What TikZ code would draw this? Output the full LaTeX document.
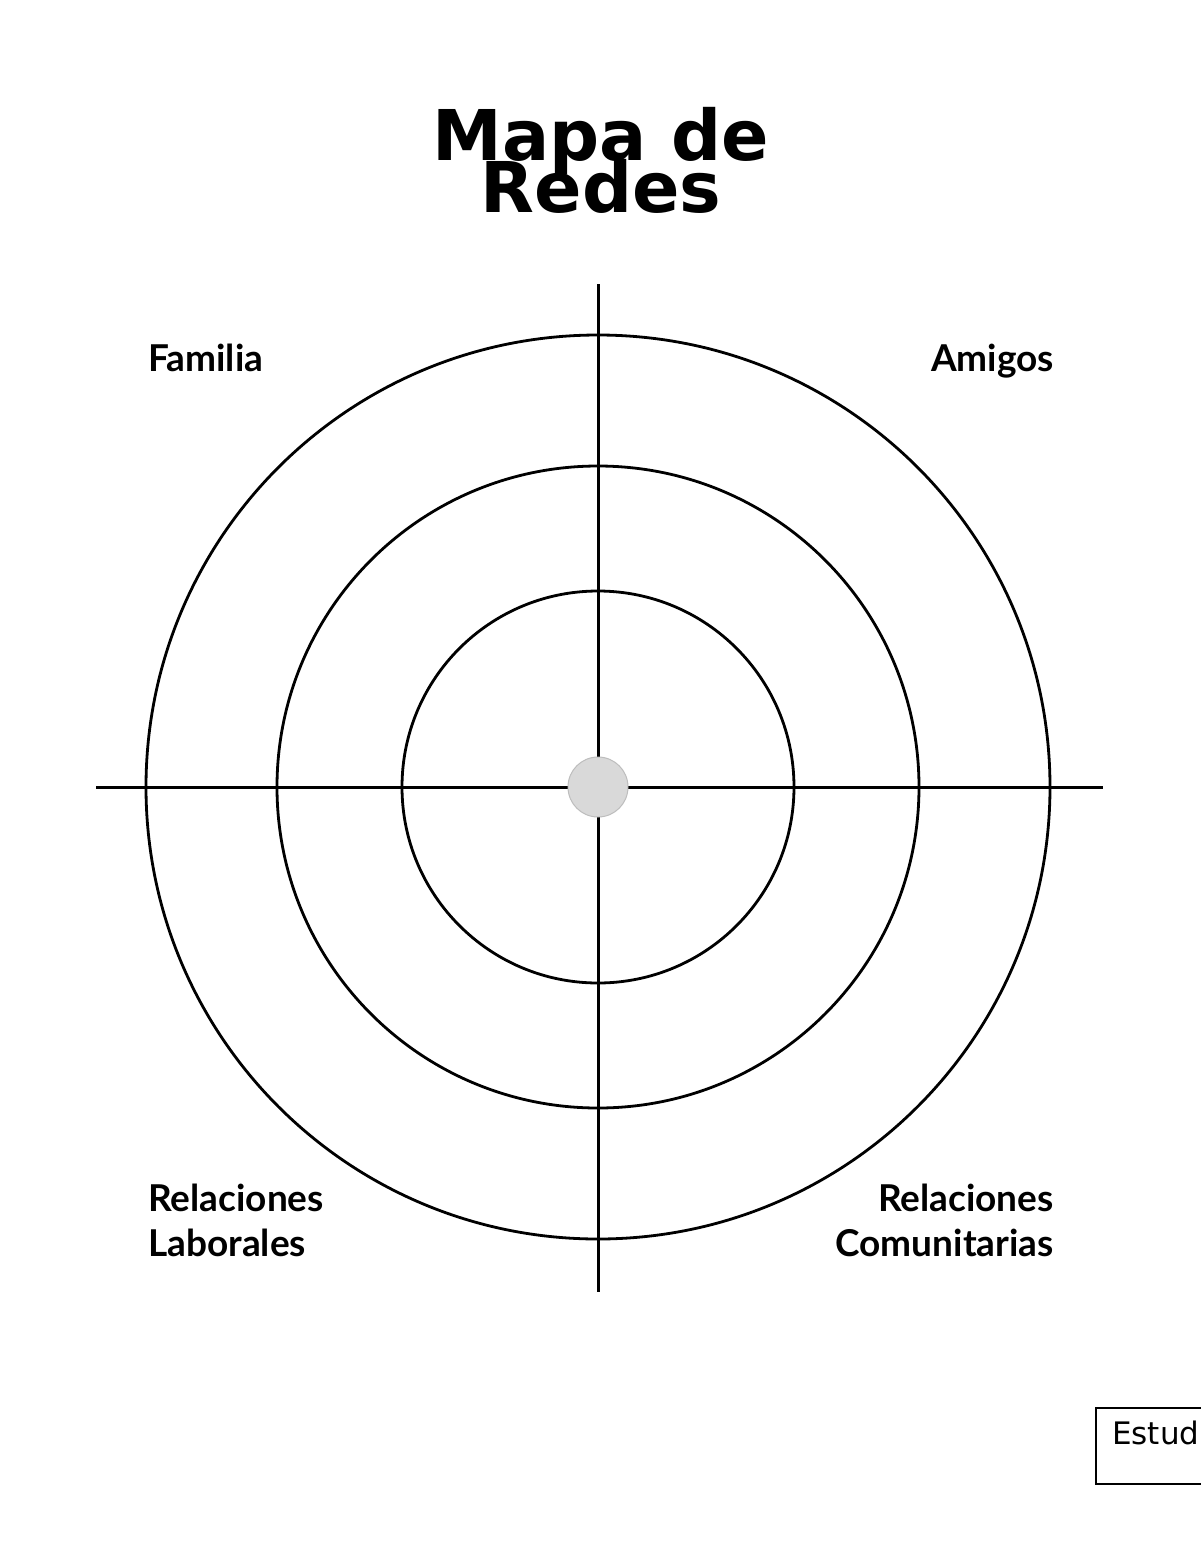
\documentclass[tikz,border=0pt]{standalone}
\usepackage{fontspec}
\setmainfont{DejaVu Sans}
\newfontfamily\latofont{Lato}
\definecolor{dotfill}{HTML}{D9D9D9}
\definecolor{dotline}{HTML}{BDBDBD}
\begin{document}
\begin{tikzpicture}[x=1pt,y=-1pt,
  ring/.style={draw=black,line width=2.8pt},
  axis/.style={draw=black,line width=3pt},
  lbl/.style={inner sep=0pt,font=\latofont\bfseries\fontsize{37}{44}\selectfont},
  ttl/.style={inner sep=0pt,anchor=base,font=\bfseries\fontsize{70}{52}\selectfont}]
\useasboundingbox (0,0) rectangle (1200,1553);
\fill[white] (0,0) rectangle (1200,1553);
\coordinate (c) at (598,787);
\coordinate (left) at (96,787);
\coordinate (right) at (1103,787);
\coordinate (top) at (598,284);
\coordinate (bottom) at (598,1292);
\node[ttl] (t1) at (601,160) {Mapa de};
\node[ttl] (t2) at (601,212) {Redes};
\draw[ring] (c) circle[radius=452];
\draw[ring] (c) circle[radius=321];
\draw[ring] (c) circle[radius=196];
\draw[axis] (left) -- (right);
\draw[axis] (top) -- (bottom);
\node[circle,fill=dotfill,draw=dotline,line width=1pt,minimum size=60pt,inner sep=0pt] (dot) at (c) {};
\node[lbl,anchor=base west] (fam) at (148,371) {Familia};
\node[lbl,anchor=base east] (ami) at (1054,371) {Amigos};
\node[lbl,anchor=base west] (rl1) at (148,1211) {Relaciones};
\node[lbl,anchor=base west] (rl2) at (148,1256) {Laborales};
\node[lbl,anchor=base east] (rc1) at (1054,1211) {Relaciones};
\node[lbl,anchor=base east] (rc2) at (1054,1256) {Comunitarias};
\draw[line width=1.5pt] (1096,1408) rectangle (1230,1484);
\node[inner sep=0pt,anchor=base west,font=\fontsize{31}{36}\selectfont] (est) at (1112,1444) {Estud};
\end{tikzpicture}
\end{document}
